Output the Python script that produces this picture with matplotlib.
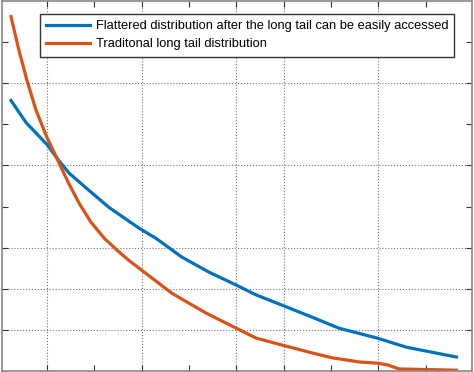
import matplotlib
matplotlib.use('Agg')
import matplotlib.pyplot as plt

# values (x in tick units, y in tick units)
x_flat = [0.24, 0.56, 1.0, 1.25, 1.47, 1.89, 2.31, 2.95, 3.30, 3.85, 4.43, 5.00,
          5.42, 5.97, 6.60, 7.17, 7.98, 8.59, 9.65]
y_flat = [6.58, 6.04, 5.51, 5.12, 4.81, 4.39, 3.98, 3.47, 3.23, 2.77, 2.40, 2.09,
          1.85, 1.60, 1.31, 1.04, 0.80, 0.58, 0.34]

x_tail = [0.24, 0.41, 0.58, 0.77, 1.0, 1.15, 1.30, 1.47, 1.68, 1.93, 2.21, 2.48, 2.73,
          3.22, 3.64, 4.36, 5.00, 5.42, 5.97, 6.60, 7.03, 7.60, 7.98, 8.19, 8.44, 9.65]
y_tail = [8.62, 7.79, 7.06, 6.34, 5.68, 5.32, 4.95, 4.54, 4.08, 3.62, 3.23, 2.94, 2.69,
          2.26, 1.89, 1.41, 1.04, 0.80, 0.63, 0.44, 0.32, 0.22, 0.19, 0.15, 0.05, 0.02]

labels = ['Flattered distribution after the long tail can be easily accessed',
          'Traditonal long tail distribution']

x_grid_ticks = [1, 3, 5, 6, 8]
x_plain_ticks = [2, 4, 7, 9]
y_grid_ticks = [1, 2, 3, 5, 7]
y_plain_ticks = [4, 6, 8]

plt.rcParams['font.family'] = ['Liberation Sans', 'DejaVu Sans']

fig = plt.figure(figsize=(4.74, 3.72), dpi=100)
ax = fig.add_axes([2 / 474, 1 / 372, 470 / 474, 370 / 372])

ax.plot(x_flat, y_flat, color='#0072BD', linewidth=2.3, label=labels[0])
ax.plot(x_tail, y_tail, color='#D95319', linewidth=2.3, label=labels[1])

ax.set_xlim(0.05, 9.98)
ax.set_ylim(0, 9.0)

ax.set_xticks(x_grid_ticks)
ax.set_xticks(x_plain_ticks, minor=True)
ax.set_yticks(y_grid_ticks)
ax.set_yticks(y_plain_ticks, minor=True)
ax.set_xticklabels([])
ax.set_yticklabels([])
ax.tick_params(which='both', direction='in', length=4, width=0.8, color='#333333',
               top=True, right=True, labelbottom=False, labelleft=False)
ax.grid(True, which='major', linestyle=':', color='#777777', linewidth=0.8)

for s in ax.spines.values():
    s.set_color('#888888')
    s.set_linewidth(1.2)

leg = ax.legend(loc='upper left', bbox_to_anchor=(38 / 470, 357 / 370), borderaxespad=0,
                fontsize=9.3, handlelength=3.4, handletextpad=0.4, labelspacing=0.45,
                borderpad=0.5, fancybox=False, framealpha=1, edgecolor='#333333')
leg.get_frame().set_linewidth(1.0)

fig.savefig('out.png', dpi=100)
